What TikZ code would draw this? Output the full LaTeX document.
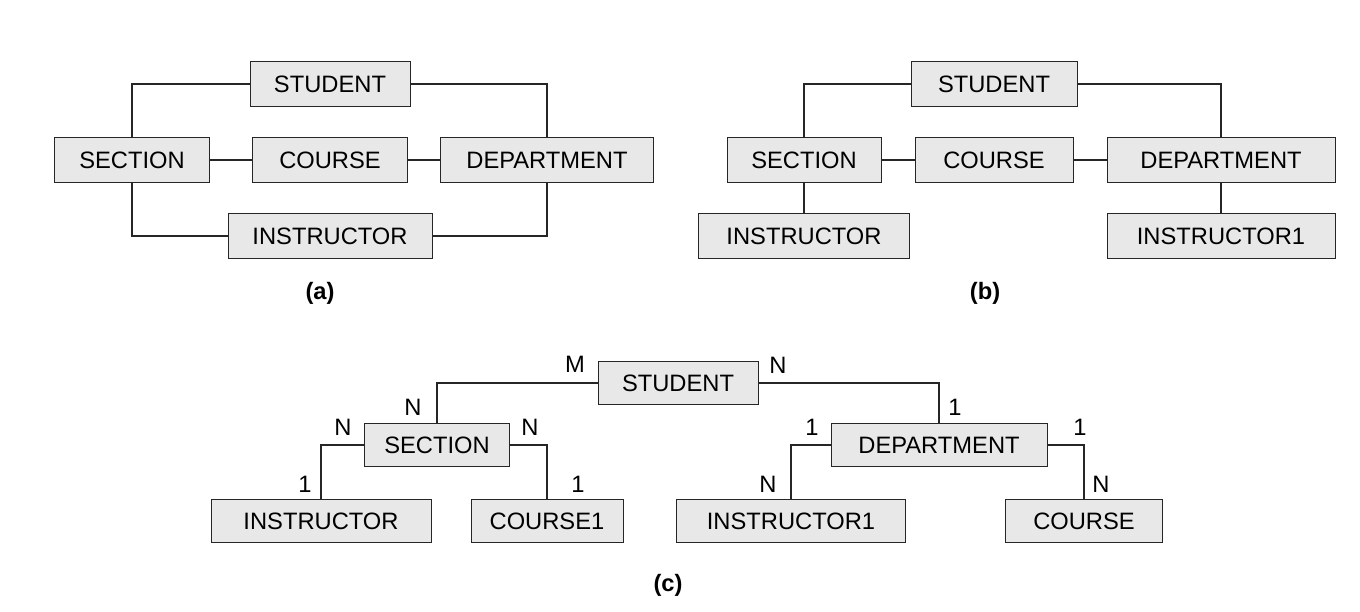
\documentclass[tikz,border=0pt]{standalone}
\usepackage{fontspec}
\setmainfont{Liberation Sans}
\begin{document}
\begin{tikzpicture}[x=0.02cm,y=-0.02cm,
  box/.style={draw=black!85,fill=black!9,inner sep=0pt,font=\fontsize{13.5}{16}\selectfont},
  ba/.style={box,minimum height=0.9cm},
  bc/.style={box,minimum height=0.86cm},
  ln/.style={draw=black!85,line width=0.6pt},
  lab/.style={font=\fontsize{13.5}{16}\selectfont},
  plabel/.style={font=\bfseries\fontsize{13.5}{16}\selectfont}]
\useasboundingbox (0,0) rectangle (1360,612);
% (a)
\node[ba,minimum width=3.2cm] (aS) at (330,84) {STUDENT};
\node[ba,minimum width=3.1cm] (aSe) at (132,160) {SECTION};
\node[ba,minimum width=3.1cm] (aC) at (330,160) {COURSE};
\node[ba,minimum width=4.26cm] (aD) at (547,160) {DEPARTMENT};
\node[ba,minimum width=4.08cm] (aI) at (330,236) {INSTRUCTOR};
\draw[ln] (aS.west) -| (aSe.north);
\draw[ln] (aS.east) -| (aD.north);
\draw[ln] (aSe.south) |- (aI.west);
\draw[ln] (aI.east) -| (aD.south);
\draw[ln] (aSe) -- (aC);
\draw[ln] (aC) -- (aD);
\node[plabel] (ca) at (320,293) {(a)};
% (b)
\node[ba,minimum width=3.32cm] (bS) at (994,84) {STUDENT};
\node[ba,minimum width=3.08cm] (bSe) at (804,160) {SECTION};
\node[ba,minimum width=3.16cm] (bC) at (994,160) {COURSE};
\node[ba,minimum width=4.56cm] (bD) at (1221,160) {DEPARTMENT};
\node[ba,minimum width=4.22cm] (bI) at (804,236) {INSTRUCTOR};
\node[ba,minimum width=4.56cm] (bI1) at (1221,236) {INSTRUCTOR1};
\draw[ln] (bS.west) -| (bSe.north);
\draw[ln] (bS.east) -| (bD.north);
\draw[ln] (bSe) -- (bC);
\draw[ln] (bC) -- (bD);
\draw[ln] (bSe) -- (bI);
\draw[ln] (bD) -- (bI1);
\node[plabel] (cb) at (985,293) {(b)};
% (c)
\node[bc,minimum width=3.2cm] (cS) at (678,383) {STUDENT};
\node[bc,minimum width=2.9cm] (cSe) at (437,445) {SECTION};
\node[bc,minimum width=4.32cm] (cD) at (939,445) {DEPARTMENT};
\node[bc,minimum width=4.4cm] (cI) at (321,521) {INSTRUCTOR};
\node[bc,minimum width=3.04cm] (cC1) at (547,521) {COURSE1};
\node[bc,minimum width=4.58cm] (cI1) at (791,521) {INSTRUCTOR1};
\node[bc,minimum width=3.14cm] (cC) at (1084,521) {COURSE};
\draw[ln] (cS.west) -| (cSe.north);
\draw[ln] (cS.east) -| (cD.north);
\draw[ln] (cSe.west) -| (cI.north);
\draw[ln] (cSe.east) -| (cC1.north);
\draw[ln] (cD.west) -| (cI1.north);
\draw[ln] (cD.east) -| (cC.north);
\node[lab] (l1) at (575,364) {M};
\node[lab] (l2) at (413,407) {N};
\node[lab] (l3) at (778,365) {N};
\node[lab] (l4) at (955,407) {1};
\node[lab] (l5) at (343,427) {N};
\node[lab] (l6) at (305,484) {1};
\node[lab] (l7) at (530,427) {N};
\node[lab] (l8) at (578,484) {1};
\node[lab] (l9) at (812,427) {1};
\node[lab] (l10) at (768,484) {N};
\node[lab] (l11) at (1080,427) {1};
\node[lab] (l12) at (1101,484) {N};
\node[plabel] (cc) at (668,585) {(c)};
\end{tikzpicture}
\end{document}
